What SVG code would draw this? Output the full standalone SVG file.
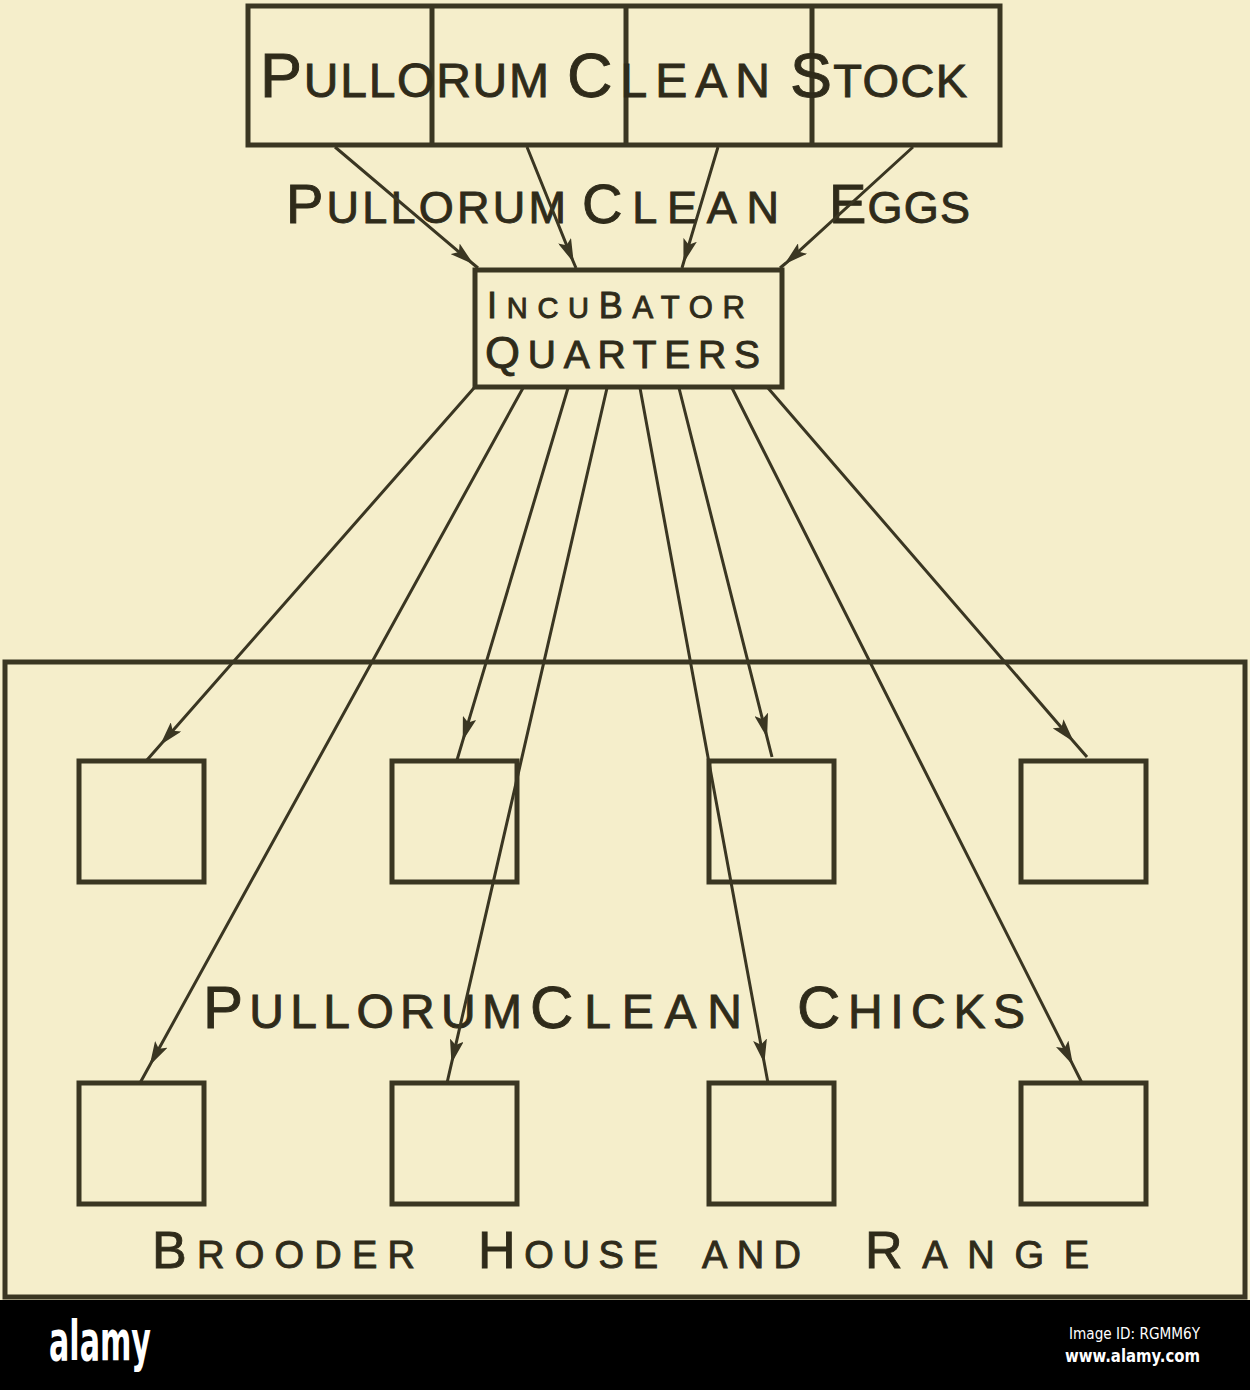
<svg xmlns="http://www.w3.org/2000/svg" width="1250" height="1390" viewBox="0 0 1250 1390">
  <style>
    .bg { fill: #f5eecb; }
    .box { fill: none; stroke: #3a3622; stroke-width: 5; }
    .conn { fill: none; stroke: #3a3622; stroke-width: 3; marker-mid: url(#ah); }
    .lbl { font-family: "Liberation Sans", Arial, sans-serif; fill: #2f2b1a; stroke: #2f2b1a; stroke-width: 0.9; }
    .wm { font-family: "DejaVu Sans Condensed", "DejaVu Sans", sans-serif; fill: #ffffff; }
  </style>
  <defs>
    <marker id="ah" viewBox="0 0 24 14" markerWidth="24" markerHeight="14" refX="22" refY="7" orient="auto" markerUnits="userSpaceOnUse">
      <path d="M0,0 L24,7 L0,14 L5,7 z" fill="#3a3622"/>
    </marker>
  </defs>

  <rect class="bg" x="0" y="0" width="1250" height="1300"/>

  <g id="stock">
    <rect class="box" x="248" y="6" width="752" height="139"/>
    <line class="box" x1="432" y1="6" x2="432" y2="145"/>
    <line class="box" x1="626" y1="6" x2="626" y2="145"/>
    <line class="box" x1="812" y1="6" x2="812" y2="145"/>
    <text class="lbl" x="260" y="97" textLength="289" lengthAdjust="spacing"><tspan font-size="63">P</tspan><tspan font-size="48">ULLORUM</tspan></text>
    <text class="lbl" x="567" y="97" textLength="203" lengthAdjust="spacing"><tspan font-size="63">C</tspan><tspan font-size="48">LEAN</tspan></text>
    <text class="lbl" x="790" y="97" textLength="177" lengthAdjust="spacing"><tspan font-size="63">S</tspan><tspan font-size="47">TOCK</tspan></text>
  </g>

  <g id="eggs-label">
    <text class="lbl" x="286" y="223" textLength="280" lengthAdjust="spacing"><tspan font-size="56">P</tspan><tspan font-size="45">ULLORUM</tspan></text>
    <text class="lbl" x="582" y="223" textLength="197" lengthAdjust="spacing"><tspan font-size="56">C</tspan><tspan font-size="45">LEAN</tspan></text>
    <text class="lbl" x="829" y="223" textLength="141" lengthAdjust="spacing"><tspan font-size="56">E</tspan><tspan font-size="45">GGS</tspan></text>
  </g>

  <g id="incubator">
    <rect class="box" x="475" y="270" width="307" height="117"/>
    <text class="lbl" x="487" y="318" textLength="258" lengthAdjust="spacing"><tspan font-size="36">I</tspan><tspan font-size="29">NCU</tspan><tspan font-size="36">B</tspan><tspan font-size="31">ATOR</tspan></text>
    <text class="lbl" x="485" y="368" textLength="275" lengthAdjust="spacing"><tspan font-size="45">Q</tspan><tspan font-size="39">UARTERS</tspan></text>
  </g>

  <g id="brooder">
    <rect class="box" x="5" y="662" width="1240" height="635"/>
    <text class="lbl" x="152" y="1268" textLength="263" lengthAdjust="spacing"><tspan font-size="52">B</tspan><tspan font-size="38">ROODER</tspan></text>
    <text class="lbl" x="478" y="1268" textLength="180" lengthAdjust="spacing"><tspan font-size="52">H</tspan><tspan font-size="38">OUSE</tspan></text>
    <text class="lbl" x="702" y="1268" textLength="99" lengthAdjust="spacing" font-size="38">AND</text>
    <text class="lbl" x="865" y="1268" textLength="224" lengthAdjust="spacing"><tspan font-size="52">R</tspan><tspan font-size="38">ANGE</tspan></text>
  </g>

  <g id="chicks-label">
    <text class="lbl" x="203" y="1028" textLength="319" lengthAdjust="spacing"><tspan font-size="60">P</tspan><tspan font-size="48">ULLORUM</tspan></text>
    <text class="lbl" x="530" y="1028" textLength="212" lengthAdjust="spacing"><tspan font-size="60">C</tspan><tspan font-size="48">LEAN</tspan></text>
    <text class="lbl" x="797" y="1028" textLength="228" lengthAdjust="spacing"><tspan font-size="60">C</tspan><tspan font-size="48">HICKS</tspan></text>
  </g>

  <g id="pen-1-1"><rect class="box" x="79" y="761" width="125" height="121"/></g>
  <g id="pen-1-2"><rect class="box" x="392" y="761" width="125" height="121"/></g>
  <g id="pen-1-3"><rect class="box" x="709" y="761" width="125" height="121"/></g>
  <g id="pen-1-4"><rect class="box" x="1021" y="761" width="125" height="121"/></g>
  <g id="pen-2-1"><rect class="box" x="79" y="1083" width="125" height="121"/></g>
  <g id="pen-2-2"><rect class="box" x="392" y="1083" width="125" height="121"/></g>
  <g id="pen-2-3"><rect class="box" x="709" y="1083" width="125" height="121"/></g>
  <g id="pen-2-4"><rect class="box" x="1021" y="1083" width="125" height="121"/></g>

  <g id="connectors">
    <path class="conn" d="M335,147 L472,263 L478,268"/>
    <path class="conn" d="M527,147 L573,261 L576,268"/>
    <path class="conn" d="M718,147 L684,261 L682,268"/>
    <path class="conn" d="M913,147 L786,263 L780,268"/>

    <path class="conn" d="M474,388 L161.5,743.5 L147,760"/>
    <path class="conn" d="M523,388 L150.6,1063.7 L140,1083"/>
    <path class="conn" d="M568,388 L463.3,738.9 L457,760"/>
    <path class="conn" d="M607,388 L451.9,1061.6 L447,1083"/>
    <path class="conn" d="M640,388 L764,1061.4 L768,1083"/>
    <path class="conn" d="M679,388 L766.6,735.7 L772,757"/>
    <path class="conn" d="M732,388 L1072.1,1063.4 L1082,1083"/>
    <path class="conn" d="M768,388 L1072.6,740.4 L1087,757"/>
  </g>

  <g id="footer">
    <rect x="0" y="1300" width="1250" height="90" fill="#000000"/>
    <text class="wm" x="49" y="1360" font-size="56" font-weight="bold" textLength="102" lengthAdjust="spacingAndGlyphs">alamy</text>
    <text class="wm" x="1069" y="1339" font-size="15" textLength="131" lengthAdjust="spacingAndGlyphs">Image ID: RGMM6Y</text>
    <text class="wm" x="1065" y="1362" font-size="17" font-weight="bold" textLength="135" lengthAdjust="spacingAndGlyphs">www.alamy.com</text>
  </g>
</svg>
